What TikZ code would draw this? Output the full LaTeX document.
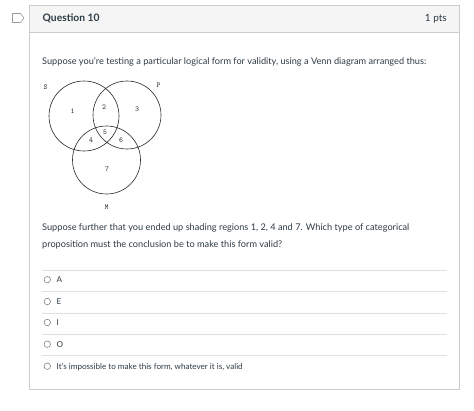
\documentclass[tikz,border=0pt]{standalone}
\usepackage{fontspec}
\setmainfont{Lato}
\usepackage{xcolor}
\usetikzlibrary{positioning}
\definecolor{cardline}{HTML}{C7CDD1}
\definecolor{headbg}{HTML}{F5F5F5}
\definecolor{txt}{HTML}{2D3B45}
\begin{document}
\begin{tikzpicture}[x=1pt, y=-1pt,
    body/.style={anchor=base west, inner sep=0pt, text=txt, font=\fontsize{9.2}{11}\selectfont},
    answer/.style={anchor=base west, inner sep=0pt, text=txt, font=\fontsize{8.1}{10}\selectfont},
    venn/.style={inner sep=0pt, text=black!80, font=\fontsize{7.5}{8}\selectfont\ttfamily},
    sep/.style={draw=cardline!60, line width=0.6pt},
    radio/.style={circle, draw=txt!70, line width=0.5pt, minimum size=6.5pt, inner sep=0pt}]
        \useasboundingbox[fill=white] (0,0) rectangle (474,410);

        % Card and header
        \fill[headbg] (29.5,5) rectangle (459.5,32);
        \draw[cardline, line width=0.8pt] (29.5,5) rectangle (459.5,389);
        \draw[cardline, line width=0.8pt] (29.5,32) -- (459.5,32);
        \draw[txt!50, line width=0.6pt, line join=round] (12.5,13.5) -- (20.5,13.5) -- (24,18) -- (20.5,22.5) -- (12.5,22.5) -- cycle;
        \node[anchor=base west, inner sep=0pt, text=txt, font=\fontsize{10.3}{12}\selectfont\bfseries] (title) at (42.5,21.5) {Question 10};
        \node[anchor=base east, inner sep=0pt, text=txt, font=\fontsize{10}{12}\selectfont] (pts) at (447,21.5) {1 pts};

        % Question text
        \node[body] (intro) at (42,64.5) {Suppose you're testing a particular logical form for validity, using a Venn diagram arranged thus:};

        % Venn diagram
        \draw[black!85, line width=0.6pt] (84,116) circle (35);
        \draw[black!85, line width=0.6pt] (127,115) circle (34);
        \draw[black!85, line width=0.6pt] (106.5,160) circle (34);
        \node[venn] (S) at (45.5,87) {S};
        \node[venn] (P) at (158.5,85) {P};
        \node[venn] (M) at (106.5,207) {M};
        \node[venn] (r1) at (72.5,111) {1};
        \node[venn] (r2) at (104,107.5) {2};
        \node[venn] (r3) at (137,109) {3};
        \node[venn] (r4) at (91,140) {4};
        \node[venn] (r5) at (105,132) {5};
        \node[venn] (r6) at (121,140) {6};
        \node[venn] (r7) at (107,169.5) {7};

        \node[body] (further1) at (42,230.5) {Suppose further that you ended up shading regions 1, 2, 4 and 7. Which type of categorical};
        \node[body] (further2) at (42,247) {proposition must the conclusion be to make this form valid?};

        % Answers
        \foreach \y in {270,291.7,313.3,334.5,355.7} {
            \draw[sep] (42,\y) -- (447,\y);
        }
        \foreach \y/\ans [count=\i] in {282.5/A,304.3/E,325.3/I,347/O,369/{It's impossible to make this form, whatever it is, valid}} {
            \node[radio] (c\i) at (47.3,\y-2.8) {};
            \node[answer] (a\i) at (56.5,\y) {\ans};
        }
    \end{tikzpicture}
\end{document}
